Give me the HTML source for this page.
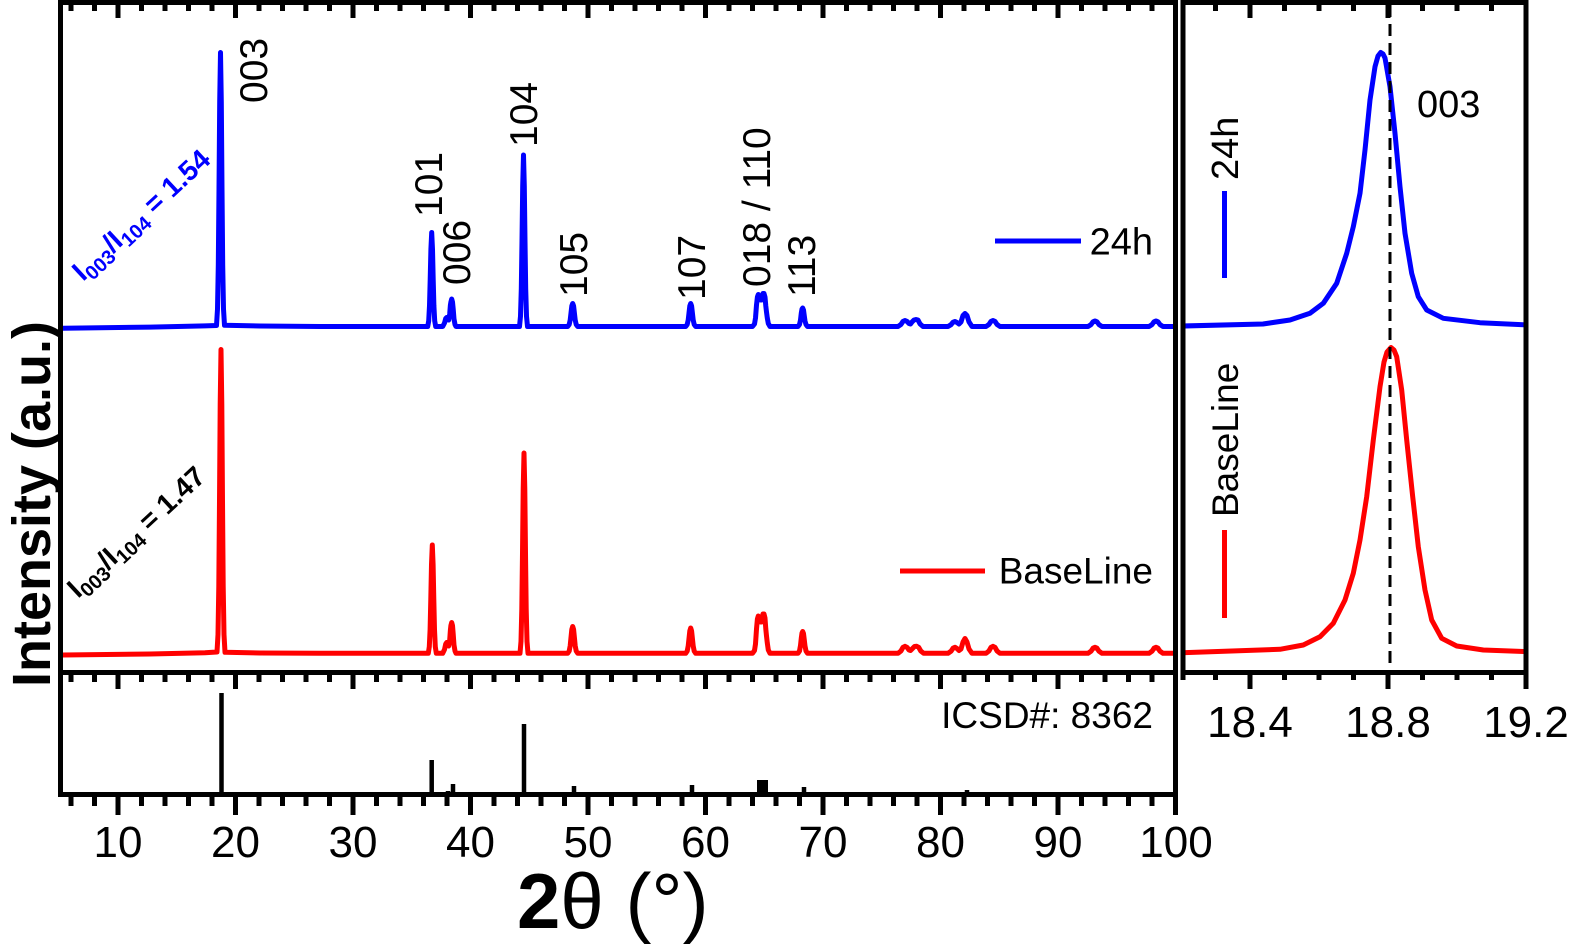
<!DOCTYPE html>
<html>
<head>
<meta charset="utf-8">
<style>
html,body{margin:0;padding:0;background:#fff;}
svg{display:block;}
</style>
</head>
<body>
<svg width="1570" height="945" viewBox="0 0 1570 945" xmlns="http://www.w3.org/2000/svg" font-family="'Liberation Sans', Arial, Helvetica, sans-serif">
<rect width="1570" height="945" fill="#fff"/>
<defs>
<clipPath id="cm"><rect x="63" y="5" width="1110" height="665"/></clipPath>
<clipPath id="cr"><rect x="1185.5" y="5" width="338" height="665"/></clipPath>
</defs>

<!-- main traces -->
<g clip-path="url(#cm)" fill="none" stroke-width="5" stroke-linejoin="round" stroke-linecap="round">
<path stroke="#0000ff" d="M63,328.3 L150,327.1 L205,325.9 L216.5,325.5 L217.5,309 L218.3,265 L219,188.5 L219.7,101.8 L220.5,52.5 L221.3,101.8 L222,188.5 L222.7,265 L223.5,309 L224.5,325.3 L260,326 L320,326.5 L427.7,326.5 L428.7,320.9 L429.5,305.8 L430.2,279.5 L430.9,249.4 L431.7,232.5 L432.5,249.4 L433.2,279.5 L433.9,305.8 L434.7,320.9 L435.7,326.5 L442.7,326.5 L444.5,323 L445.7,318.5 L446.7,317.5 L447.7,318.5 L448.7,320 L449.7,314 L450.4,305 L450.9,302 L451.7,299 L452.5,302 L453.2,309 L454,319 L455,324.5 L456,326.5 L519.5,326.5 L520.5,316.2 L521.3,288.8 L522,240.8 L522.7,185.9 L523.5,155 L524.3,185.9 L525,240.8 L525.7,288.8 L526.5,316.2 L527.5,326.5 L567.7,326.5 L569.2,324.5 L570.2,320 L571,313 L571.8,306 L572.7,303.5 L573.6,306 L574.4,313 L575.2,320 L576.2,324.5 L577.7,326.5 L685.7,326.5 L687.2,324.5 L688.2,320 L689,313 L689.8,306 L690.7,303.5 L691.6,306 L692.4,313 L693.2,320 L694.2,324.5 L695.7,326.5 L752.5,326.5 L754.5,324 L755.5,318 L756.5,305 L757.4,297 L758.3,294.5 L759.3,297 L760.5,300 L761.5,300 L762.3,296 L763,293.5 L764,293.5 L765,297 L765.8,306 L766.5,312 L767.3,318 L768.3,323.5 L770,326.5 L798,326.5 L799.5,324.5 L800.5,320 L801.3,313 L802,309 L802.7,308 L803.5,310 L804.3,316 L805,321 L806,324.5 L807.5,326.5 L898,326.5 L901,324.4 L903,321.4 L905,320.5 L907,321.4 L909,323.5 L910.5,324 L912,322 L914,320 L916,319.5 L918,320 L920,323.9 L923,326.5 L948,326.5 L951,324.7 L953,322.2 L955,321.5 L957,322.5 L959,324 L961,322 L963,315.5 L965,313.5 L967,315.5 L969,321.9 L972,326.5 L986,326.5 L989,324.4 L991,321.4 L993,320.5 L995,321.4 L997,324.4 L1000,326.5 L1088,326.5 L1091,324.6 L1093,321.8 L1095,321 L1097,321.8 L1099,324.6 L1102,326.5 L1149,326.5 L1152,324.6 L1154,321.8 L1156,321 L1158,321.8 L1160,324.6 L1163,326.5 L1176,326.5"/>
<path stroke="#ff0000" d="M63,655 L150,654 L205,652.7 L217,652 L218,634.5 L218.8,586.5 L219.5,501.4 L220.2,404.2 L221,349.5 L221.8,404.2 L222.5,501.4 L223.2,586.5 L224,634.5 L225,652.3 L260,653 L320,653.3 L428.3,653.3 L429.3,646.8 L430.1,629.5 L430.8,599.1 L431.5,564.5 L432.3,545 L433.1,564.5 L433.8,599.1 L434.5,629.5 L435.3,646.8 L436.3,653.3 L442.7,653.3 L444.5,649.5 L445.7,644 L446.7,642.5 L447.7,644 L448.7,646 L449.7,640 L450.4,630 L450.9,625.5 L451.7,622.5 L452.5,625.5 L453.2,634 L454,645 L455,651 L456,653.3 L520,653.3 L521,641.3 L521.8,609.2 L522.5,553.1 L523.2,489.1 L524,453 L524.8,489.1 L525.5,553.1 L526.2,609.2 L527,641.3 L528,653.3 L567.7,653.3 L569.2,651 L570.2,645.8 L571,637.5 L571.8,629.5 L572.7,626.5 L573.6,629.5 L574.4,637.5 L575.2,645.8 L576.2,651 L577.7,653.3 L685.7,653.3 L687.2,651.1 L688.2,646 L689,638.5 L689.8,631 L690.7,628 L691.6,631 L692.4,638.5 L693.2,646 L694.2,651.1 L695.7,653.3 L752.5,653.3 L754.5,650.5 L755.5,644 L756.5,629 L757.4,619 L758.3,616 L759.3,619 L760.5,622 L761.5,622 L762.3,617 L763,614 L764,614 L765,618 L765.8,629 L766.5,636 L767.3,643 L768.3,650 L770,653.3 L798,653.3 L799.5,651 L800.5,645.5 L801.3,638 L802,633 L802.7,631.5 L803.5,633.5 L804.3,640 L805,646 L806,651 L807.5,653.3 L898,653.3 L901,650.9 L903,647.3 L905,646.3 L907,647.3 L909,650 L910.5,650.5 L912,649 L914.5,646.5 L916.7,646.3 L918.7,647.3 L920.7,650.9 L923.7,653.3 L948,653.3 L951,651.2 L953,648.2 L955,647.3 L957,648.5 L959,650.5 L961,649 L963,642 L965,638.5 L967,642 L969,649 L972,653.3 L986,653.3 L989,650.9 L991,647.3 L993,646.3 L995,647.3 L997,650.9 L1000,653.3 L1088,653.3 L1091,651.2 L1093,648.2 L1095,647.3 L1097,648.2 L1099,651.2 L1102,653.3 L1149,653.3 L1152,651.2 L1154,648.2 L1156,647.3 L1158,648.2 L1160,651.2 L1163,653.3 L1176,653.3"/>
</g>

<!-- right panel traces -->
<g clip-path="url(#cr)" fill="none" stroke-width="5" stroke-linejoin="round" stroke-linecap="round">
<path stroke="#0000ff" d="M1183,326 L1263,324 L1290,320 L1310,313.3 L1323.3,303.3 L1336.7,283.3 L1346.7,253.3 L1353.3,226.7 L1360,193.3 L1365,150 L1370,100 L1375,66.7 L1378,56 L1380.7,52.5 L1383,54 L1385,58 L1390,86.7 L1395,133.3 L1400,186.7 L1405,233.3 L1411.7,273.3 L1418.3,296.7 L1426.7,310 L1443.3,318.3 L1480,322.7 L1528,325"/>
<path stroke="#ff0000" d="M1183,652.7 L1280,649.3 L1303.3,645 L1320,636.7 L1333.3,623.3 L1345,600 L1353.3,573.3 L1360,540 L1366.7,496.7 L1373.3,440 L1380,386.7 L1384,362 L1387,352 L1391,347.5 L1394,350 L1396.7,356.7 L1401.7,390 L1406.7,440 L1412.7,496.7 L1418.3,546.7 L1425,590 L1431.7,620 L1441.7,638.3 L1456.7,646 L1483.3,650 L1528,651.7"/>
</g>

<!-- dashed line -->
<path d="M1390,5 V670" stroke="#000" stroke-width="3" stroke-dasharray="12 7" fill="none"/>

<!-- reference bars -->
<g stroke="#000" stroke-width="4.5" fill="none">
<path d="M221.5,793 V693 M431.7,793 V760 M448,793 V791 M453,793 V784 M524,793 V724 M574,793 V786 M692,793 V785 M804,793 V787 M967,793 V790"/>
</g>
<rect x="757" y="780" width="11" height="13" fill="#000"/>

<!-- frames -->
<g stroke="#000" stroke-width="5" fill="none">
<path d="M60.5,0 V797 M58,2.5 H1178 M1175.5,0 V815 M58,672.5 H1178 M58,794.5 H1178"/>
<path d="M1183,0 V675 M1180.5,2.5 H1528.5 M1526,0 V689 M1180.5,672.5 H1528.5"/>
</g>

<!-- ticks -->
<g stroke="#000" stroke-width="5" fill="none">
<path d="M71,5v6 M94.5,5v6 M141.5,5v6 M165,5v6 M188.5,5v6 M212,5v6 M259,5v6 M282.5,5v6 M306,5v6 M329.5,5v6 M376.5,5v6 M400,5v6 M423.5,5v6 M447,5v6 M494,5v6 M517.5,5v6 M541,5v6 M564.5,5v6 M611.5,5v6 M635,5v6 M658.5,5v6 M682,5v6 M729,5v6 M752.5,5v6 M776,5v6 M799.5,5v6 M846.5,5v6 M870,5v6 M893.5,5v6 M917,5v6 M964,5v6 M987.5,5v6 M1011,5v6 M1034.5,5v6 M1081.5,5v6 M1105,5v6 M1128.5,5v6 M1152,5v6"/>
<path d="M118,5v13 M235.5,5v13 M353,5v13 M470.5,5v13 M588,5v13 M705.5,5v13 M823,5v13 M940.5,5v13 M1058,5v13"/>
<path d="M71,675v7 M94.5,675v7 M141.5,675v7 M165,675v7 M188.5,675v7 M212,675v7 M259,675v7 M282.5,675v7 M306,675v7 M329.5,675v7 M376.5,675v7 M400,675v7 M423.5,675v7 M447,675v7 M494,675v7 M517.5,675v7 M541,675v7 M564.5,675v7 M611.5,675v7 M635,675v7 M658.5,675v7 M682,675v7 M729,675v7 M752.5,675v7 M776,675v7 M799.5,675v7 M846.5,675v7 M870,675v7 M893.5,675v7 M917,675v7 M964,675v7 M987.5,675v7 M1011,675v7 M1034.5,675v7 M1081.5,675v7 M1105,675v7 M1128.5,675v7 M1152,675v7"/>
<path d="M118,675v14 M235.5,675v14 M353,675v14 M470.5,675v14 M588,675v14 M705.5,675v14 M823,675v14 M940.5,675v14 M1058,675v14"/>
<path d="M71,797v9 M94.5,797v9 M141.5,797v9 M165,797v9 M188.5,797v9 M212,797v9 M259,797v9 M282.5,797v9 M306,797v9 M329.5,797v9 M376.5,797v9 M400,797v9 M423.5,797v9 M447,797v9 M494,797v9 M517.5,797v9 M541,797v9 M564.5,797v9 M611.5,797v9 M635,797v9 M658.5,797v9 M682,797v9 M729,797v9 M752.5,797v9 M776,797v9 M799.5,797v9 M846.5,797v9 M870,797v9 M893.5,797v9 M917,797v9 M964,797v9 M987.5,797v9 M1011,797v9 M1034.5,797v9 M1081.5,797v9 M1105,797v9 M1128.5,797v9 M1152,797v9"/>
<path d="M118,797v18 M235.5,797v18 M353,797v18 M470.5,797v18 M588,797v18 M705.5,797v18 M823,797v18 M940.5,797v18 M1058,797v18"/>
<path d="M1215.5,5v6 M1284.5,5v6 M1319,5v6 M1353.5,5v6 M1422.5,5v6 M1457,5v6 M1491.5,5v6 M1250,5v13 M1388,5v13"/>
<path d="M1183,675v5 M1215.5,675v5 M1284.5,675v5 M1319,675v5 M1353.5,675v5 M1422.5,675v5 M1457,675v5 M1491.5,675v5 M1250,675v14 M1388,675v14"/>
</g>

<!-- tick labels -->
<g font-size="44" fill="#000" text-anchor="middle">
<text x="118" y="857">10</text>
<text x="235.5" y="857">20</text>
<text x="353" y="857">30</text>
<text x="470.5" y="857">40</text>
<text x="588" y="857">50</text>
<text x="705.5" y="857">60</text>
<text x="823" y="857">70</text>
<text x="940.5" y="857">80</text>
<text x="1058" y="857">90</text>
<text x="1176" y="857">100</text>
<text x="1250" y="737">18.4</text>
<text x="1388" y="737">18.8</text>
<text x="1526" y="737">19.2</text>
</g>

<!-- axis titles -->
<text transform="translate(50,687) rotate(-90)" font-size="54" font-weight="bold" fill="#000">Intensity (a.u.)</text>
<text x="517" y="928" font-size="78" fill="#000"><tspan font-weight="bold">2</tspan>θ (°)</text>

<!-- peak labels -->
<g font-size="39" fill="#000">
<text transform="translate(267,103) rotate(-90)">003</text>
<text transform="translate(442,217) rotate(-90)">101</text>
<text transform="translate(470,285) rotate(-90)">006</text>
<text transform="translate(537,147) rotate(-90)">104</text>
<text transform="translate(587,297) rotate(-90)">105</text>
<text transform="translate(705,300) rotate(-90)">107</text>
<text transform="translate(770,287) rotate(-90)">018 / 110</text>
<text transform="translate(815,297) rotate(-90)">113</text>
</g>

<!-- ratio annotations -->
<text transform="translate(83,282) rotate(-43)" font-size="28" font-weight="bold" fill="#0000ff">I<tspan font-size="20" dy="6">003</tspan><tspan dy="-6">/I</tspan><tspan font-size="20" dy="6">104</tspan><tspan dy="-6"> = 1.54</tspan></text>
<text transform="translate(78,599) rotate(-43)" font-size="28" font-weight="bold" fill="#000">I<tspan font-size="20" dy="6">003</tspan><tspan dy="-6">/I</tspan><tspan font-size="20" dy="6">104</tspan><tspan dy="-6"> = 1.47</tspan></text>

<!-- legends main -->
<path d="M995,241 H1081" stroke="#0000ff" stroke-width="5"/>
<text x="1153" y="254.5" font-size="38" text-anchor="end" fill="#000">24h</text>
<path d="M900,571 H985" stroke="#ff0000" stroke-width="5"/>
<text x="1153" y="583.5" font-size="37" text-anchor="end" fill="#000">BaseLine</text>
<text x="1153" y="728" font-size="37" text-anchor="end" fill="#000">ICSD#: 8362</text>

<!-- right panel legends -->
<path d="M1224.5,191 V278" stroke="#0000ff" stroke-width="5"/>
<text transform="translate(1238,180) rotate(-90)" font-size="38" fill="#000">24h</text>
<path d="M1224.5,530 V618" stroke="#ff0000" stroke-width="5"/>
<text transform="translate(1238,517) rotate(-90)" font-size="37" fill="#000">BaseLine</text>
<text x="1417" y="117" font-size="38" fill="#000">003</text>
</svg>
</body>
</html>
